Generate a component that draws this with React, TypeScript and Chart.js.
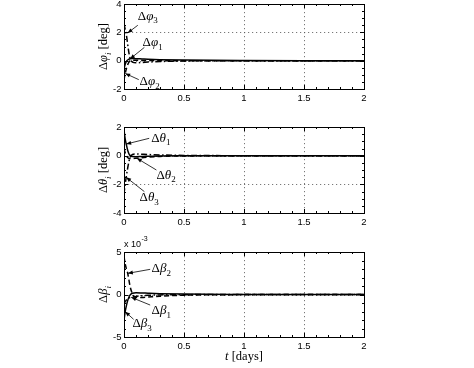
import React, { useEffect, useRef } from "react";
import { Chart, registerables } from "chart.js";
Chart.register(...registerables);

// ---- data ----
const T = [0, 0.005, 0.01, 0.02, 0.03, 0.04, 0.05, 0.07, 0.1, 0.15, 0.2, 0.3, 0.5, 1, 1.5, 2];
const X_TICKS = [0, 0.5, 1, 1.5, 2];

const PHI1 = [-0.6, -0.4, -0.25, -0.05, 0.05, 0.1, 0.13, 0.15, 0.14, 0.12, 0.1, 0.07, 0.04, 0.01, 0, 0];
const PHI2 = [-1.4, -1.1, -0.9, -0.55, -0.3, -0.12, -0.02, 0.03, 0.03, 0.02, 0.01, 0, 0, 0, 0, 0];
const PHI3 = [2.6, 2.4, 2.2, 1.8, 1.2, 0.6, 0.2, -0.1, -0.15, -0.13, -0.1, -0.06, -0.02, 0, 0, 0];
const PHI_TICKS = [-2, 0, 2, 4];

const THETA1 = [1.8, 1.45, 1.15, 0.75, 0.4, 0.15, 0.02, -0.06, -0.07, -0.05, -0.04, -0.02, -0.01, 0, 0, 0];
const THETA2 = [0.5, 0.35, 0.2, 0, -0.12, -0.18, -0.2, -0.2, -0.18, -0.14, -0.1, -0.05, -0.02, 0, 0, 0];
const THETA3 = [-2.7, -2.3, -2.0, -1.4, -0.9, -0.45, -0.15, 0.08, 0.12, 0.1, 0.08, 0.05, 0.02, 0, 0, 0];
const THETA_TICKS = [-4, -2, 0, 2];

// beta values in units of 1e-3
const BETA1 = [-1.2, -1.0, -0.85, -0.65, -0.5, -0.4, -0.35, -0.3, -0.22, -0.15, -0.1, -0.05, -0.02, 0, 0, 0];
const BETA2 = [4.5, 4.0, 3.6, 3.0, 2.55, 1.8, 1.0, 0.1, -0.35, -0.35, -0.3, -0.2, -0.08, -0.01, 0, 0];
const BETA3 = [-3.0, -2.5, -2.0, -1.3, -0.75, -0.35, -0.08, 0.15, 0.2, 0.18, 0.15, 0.1, 0.05, 0.01, 0, 0];
const BETA_TICKS = [-5, 0, 5];

const X_TITLE = "t";
const X_UNIT = " [days]";
const EXP_BASE = "x 10";
const EXP_POW = "-3";

const SERIF = '"Liberation Serif", "DejaVu Serif", serif';
const SANS = '"Liberation Sans", Arial, sans-serif';

type Part = { t: string; it?: boolean; sub?: boolean };

const DASHED = [5, 3];
const DASHDOT = [6, 2.5, 1.5, 2.5];
const ANN_SIZE = 13;

function fontFor(p: Part, size: number) {
  const s = p.sub ? Math.round(size * 0.7) : size;
  return `${p.it ? "italic " : ""}${s}px ${SERIF}`;
}
function partsWidth(ctx: CanvasRenderingContext2D, parts: Part[], size: number) {
  let w = 0;
  for (const p of parts) {
    ctx.font = fontFor(p, size);
    w += ctx.measureText(p.t).width;
  }
  return w;
}
function drawParts(ctx: CanvasRenderingContext2D, x: number, y: number, parts: Part[], size: number) {
  ctx.textBaseline = "alphabetic";
  ctx.textAlign = "left";
  let cx = x;
  for (const p of parts) {
    ctx.font = fontFor(p, size);
    ctx.fillText(p.t, cx, p.sub ? y + size * 0.28 : y);
    cx += ctx.measureText(p.t).width;
  }
}

type Ann = { parts: Part[]; lx: number; ly: number; tail: [number, number]; tip: [number, number] };
type Cfg = {
  canvasTop: number;
  canvasHeight: number;
  padTop: number;
  xAxisH: number;
  yTicks: number[];
  yMinor: number;
  series: { values: number[]; dash: number[] }[];
  anns: Ann[];
  yTitle: Part[];
  exponent?: boolean;
  xTitle?: boolean;
};

const PANELS: Cfg[] = [
  {
    canvasTop: -6,
    canvasHeight: 130,
    padTop: 10,
    xAxisH: 35,
    yTicks: PHI_TICKS,
    yMinor: 0.5,
    series: [
      { values: PHI1, dash: [] },
      { values: PHI2, dash: DASHED },
      { values: PHI3, dash: DASHDOT },
    ],
    anns: [
      { parts: [{ t: "Δ" }, { t: "φ", it: true }, { t: "3", sub: true }], lx: 0.115, ly: 3.2, tail: [0.115, 2.5], tip: [0.03, 1.95] },
      { parts: [{ t: "Δ" }, { t: "φ", it: true }, { t: "1", sub: true }], lx: 0.155, ly: 1.35, tail: [0.17, 0.94], tip: [0.05, 0.12] },
      { parts: [{ t: "Δ" }, { t: "φ", it: true }, { t: "2", sub: true }], lx: 0.13, ly: -1.42, tail: [0.123, -1.34], tip: [0.01, -0.9] },
    ],
    yTitle: [{ t: "Δ" }, { t: "φ", it: true }, { t: "i", it: true, sub: true }, { t: " [deg]" }],
  },
  {
    canvasTop: 115,
    canvasHeight: 128,
    padTop: 12,
    xAxisH: 30,
    yTicks: THETA_TICKS,
    yMinor: 0.5,
    series: [
      { values: THETA1, dash: [] },
      { values: THETA2, dash: DASHED },
      { values: THETA3, dash: DASHDOT },
    ],
    anns: [
      { parts: [{ t: "Δ" }, { t: "θ", it: true }, { t: "1", sub: true }], lx: 0.227, ly: 1.28, tail: [0.21, 1.21], tip: [0.018, 0.81] },
      { parts: [{ t: "Δ" }, { t: "θ", it: true }, { t: "2", sub: true }], lx: 0.27, ly: -1.28, tail: [0.27, -1.0], tip: [0.107, -0.18] },
      { parts: [{ t: "Δ" }, { t: "θ", it: true }, { t: "3", sub: true }], lx: 0.13, ly: -2.88, tail: [0.17, -2.51], tip: [0.018, -1.51] },
    ],
    yTitle: [{ t: "Δ" }, { t: "θ", it: true }, { t: "i", it: true, sub: true }, { t: " [deg]" }],
  },
  {
    canvasTop: 236,
    canvasHeight: 132,
    padTop: 16,
    xAxisH: 31,
    yTicks: BETA_TICKS,
    yMinor: 1,
    series: [
      { values: BETA1, dash: DASHDOT },
      { values: BETA2, dash: DASHED },
      { values: BETA3, dash: [] },
    ],
    anns: [
      { parts: [{ t: "Δ" }, { t: "β", it: true }, { t: "2", sub: true }], lx: 0.23, ly: 3.12, tail: [0.218, 2.96], tip: [0.032, 2.49] },
      { parts: [{ t: "Δ" }, { t: "β", it: true }, { t: "1", sub: true }], lx: 0.23, ly: -1.82, tail: [0.218, -1.24], tip: [0.06, -0.33] },
      { parts: [{ t: "Δ" }, { t: "β", it: true }, { t: "3", sub: true }], lx: 0.07, ly: -3.3, tail: [0.08, -2.92], tip: [0.01, -2.02] },
    ],
    yTitle: [{ t: "Δ" }, { t: "β", it: true }, { t: "i", it: true, sub: true }],
    exponent: true,
    xTitle: true,
  },
];

const fmt = (v: number) => String(v);

function Panel({ cfg }: { cfg: Cfg }) {
  const ref = useRef<HTMLCanvasElement>(null);
  useEffect(() => {
    const yMin = cfg.yTicks[0];
    const yMax = cfg.yTicks[cfg.yTicks.length - 1];
    const deco = {
      id: "deco",
      beforeDatasetsDraw(chart: any) {
        const { ctx, chartArea: a, scales } = chart;
        const xs = scales.x, ys = scales.y;
        ctx.save();
        ctx.strokeStyle = "#555";
        ctx.lineWidth = 0.8;
        ctx.setLineDash([1.2, 2.8]);
        for (const v of X_TICKS) {
          if (v === X_TICKS[0] || v === X_TICKS[X_TICKS.length - 1]) continue;
          const px = Math.round(xs.getPixelForValue(v)) + 0.5;
          ctx.beginPath();
          ctx.moveTo(px, a.top);
          ctx.lineTo(px, a.bottom);
          ctx.stroke();
        }
        for (const v of cfg.yTicks) {
          if (v === yMin || v === yMax) continue;
          const py = Math.round(ys.getPixelForValue(v)) + 0.5;
          ctx.beginPath();
          ctx.moveTo(a.left, py);
          ctx.lineTo(a.right, py);
          ctx.stroke();
        }
        ctx.restore();
      },
      afterDatasetsDraw(chart: any) {
        const { ctx, chartArea: a, scales } = chart;
        const xs = scales.x, ys = scales.y;
        ctx.save();
        ctx.setLineDash([]);
        ctx.strokeStyle = "#000";
        ctx.lineWidth = 1;
        // frame
        ctx.strokeRect(Math.round(a.left) + 0.5, Math.round(a.top) + 0.5, Math.round(a.right - a.left), Math.round(a.bottom - a.top));
        // ticks
        ctx.beginPath();
        const xMinor = 0.1;
        for (let i = 0; i <= 20; i++) {
          const v = i * xMinor;
          const major = i % 5 === 0;
          const len = major ? 4 : 2;
          const px = Math.round(xs.getPixelForValue(v)) + 0.5;
          ctx.moveTo(px, a.bottom);
          ctx.lineTo(px, a.bottom - len);
          ctx.moveTo(px, a.top);
          ctx.lineTo(px, a.top + len);
        }
        const nMinor = Math.round((yMax - yMin) / cfg.yMinor);
        for (let i = 0; i <= nMinor; i++) {
          const v = yMin + i * cfg.yMinor;
          const major = cfg.yTicks.some((t) => Math.abs(t - v) < 1e-9);
          const len = major ? 4 : 2;
          const py = Math.round(ys.getPixelForValue(v)) + 0.5;
          ctx.moveTo(a.left, py);
          ctx.lineTo(a.left + len, py);
          ctx.moveTo(a.right, py);
          ctx.lineTo(a.right - len, py);
        }
        ctx.stroke();

        // annotations
        ctx.fillStyle = "#000";
        for (const an of cfg.anns) {
          const lx = xs.getPixelForValue(an.lx);
          const ly = ys.getPixelForValue(an.ly);
          drawParts(ctx, lx, ly + 4.5, an.parts, ANN_SIZE);
          const tx = xs.getPixelForValue(an.tail[0]);
          const ty = ys.getPixelForValue(an.tail[1]);
          const hx = xs.getPixelForValue(an.tip[0]);
          const hy = ys.getPixelForValue(an.tip[1]);
          ctx.lineWidth = 0.8;
          ctx.beginPath();
          ctx.moveTo(tx, ty);
          ctx.lineTo(hx, hy);
          ctx.stroke();
          const ang = Math.atan2(hy - ty, hx - tx);
          const L = 5, W = 2;
          ctx.beginPath();
          ctx.moveTo(hx, hy);
          ctx.lineTo(hx - L * Math.cos(ang) + W * Math.sin(ang), hy - L * Math.sin(ang) - W * Math.cos(ang));
          ctx.lineTo(hx - L * Math.cos(ang) - W * Math.sin(ang), hy - L * Math.sin(ang) + W * Math.cos(ang));
          ctx.closePath();
          ctx.fill();
        }

        // y title
        const tw = partsWidth(ctx, cfg.yTitle, 12.5);
        const cy = (a.top + a.bottom) / 2;
        ctx.save();
        ctx.translate(107, cy);
        ctx.rotate(-Math.PI / 2);
        drawParts(ctx, -tw / 2, 0, cfg.yTitle, 12.5);
        ctx.restore();

        // exponent
        if (cfg.exponent) {
          ctx.font = `9px ${SANS}`;
          ctx.textAlign = "left";
          ctx.textBaseline = "alphabetic";
          ctx.fillText(EXP_BASE, a.left, a.top - 5);
          const w = ctx.measureText(EXP_BASE).width;
          ctx.font = `7px ${SANS}`;
          ctx.fillText(EXP_POW, a.left + w + 0.5, a.top - 11);
        }
        // x title
        if (cfg.xTitle) {
          const parts: Part[] = [{ t: X_TITLE, it: true }, { t: X_UNIT }];
          const w = partsWidth(ctx, parts, 12.5);
          drawParts(ctx, (a.left + a.right) / 2 - w / 2, a.bottom + 23, parts, 12.5);
        }
        ctx.restore();
      },
    };

    const chart = new Chart(ref.current!, {
      type: "line",
      data: {
        datasets: cfg.series.map((s) => ({
          data: T.map((t, i) => ({ x: t, y: s.values[i] })),
          borderColor: "#000",
          borderWidth: 1.5,
          borderDash: s.dash,
          pointRadius: 0,
          fill: false,
          cubicInterpolationMode: "monotone" as const,
        })),
      },
      options: {
        animation: false,
        responsive: false,
        events: [],
        layout: { padding: { left: 0, right: 110, top: cfg.padTop, bottom: 0 } },
        plugins: { legend: { display: false }, tooltip: { enabled: false } },
        scales: {
          x: {
            type: "linear",
            min: X_TICKS[0],
            max: X_TICKS[X_TICKS.length - 1],
            afterBuildTicks: (s: any) => {
              s.ticks = X_TICKS.map((v) => ({ value: v }));
            },
            ticks: { font: { family: SANS, size: 9.5 }, color: "#000", padding: 4, maxRotation: 0, autoSkip: false, callback: fmt },
            grid: { display: false, drawTicks: false },
            border: { display: false },
            afterFit: (s: any) => {
              s.height = cfg.xAxisH;
            },
          },
          y: {
            type: "linear",
            min: yMin,
            max: yMax,
            afterBuildTicks: (s: any) => {
              s.ticks = cfg.yTicks.map((v) => ({ value: v }));
            },
            ticks: { font: { family: SANS, size: 9.5 }, color: "#000", padding: 2.5, autoSkip: false, callback: fmt },
            grid: { display: false, drawTicks: false },
            border: { display: false },
            afterFit: (s: any) => {
              s.width = 124;
            },
          },
        },
      } as any,
      plugins: [deco],
    });
    return () => chart.destroy();
  }, [cfg]);
  return (
    <canvas
      ref={ref}
      width={474}
      height={cfg.canvasHeight}
      style={{ position: "absolute", left: 0, top: cfg.canvasTop, width: 474, height: cfg.canvasHeight }}
    />
  );
}

export default function App() {
  return (
    <div style={{ position: "absolute", left: 0, top: 0, width: 474, height: 368, background: "#fff", overflow: "hidden" }}>
      {PANELS.map((p, i) => (
        <Panel key={i} cfg={p} />
      ))}
    </div>
  );
}
